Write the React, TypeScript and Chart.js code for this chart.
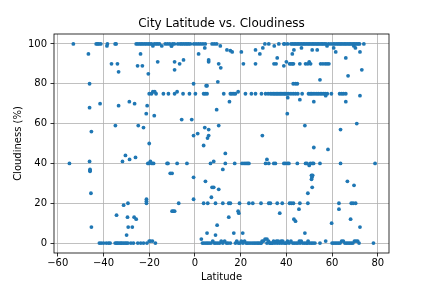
import { useEffect, useRef } from "react";
import { Chart, registerables } from "chart.js";

Chart.register(...registerables);

// Latitudes of cities with exactly 100% cloudiness
const lat100 = [
  -53.2, -43.2, -42.6, -42, -41.2, -38.3, -34.9, -34.5,
  -25.7, -25, -24.2, -23.5, -22.8, -22, -21.3, -20.5, -19.8, -19, -17.8, -17, -16.3, -15.5, -13,
  -12, -11, -9.8, -9, -7.5, -6.5, -5.8, -5, -4.2, -3.5, -2.8, -2, -0.5, 0.5, 1.5, 2.5, 3.5, 4.5,
  7.5, 8.5, 9.5, 30.6, 32.3, 36.7, 38.9, 39.2, 40.5, 42, 42.7, 43.4, 44, 44.7, 45.3, 46, 46.7,
  47.4, 48, 48.7, 49.4, 50, 50.7, 51.4, 52, 52.7, 53.4, 54, 54.7, 55.4, 56, 56.7, 57.4, 58.5,
  59.5, 60.5, 61.2, 62, 62.7, 63.4, 64, 64.7, 65.4, 66, 66.7, 67.4, 68, 68.7, 69.4, 70, 70.7,
  71.4, 72, 73.9,
];

// Latitudes of cities with exactly 75% cloudiness
const lat75 = [
  -20, -19, -17, -13.8, -11.6, -8.9, -5.2, -2.4, 0.2, 3.8, 4.5, 5.3, 12.6, 15.5, 16.2, 17, 17.7,
  22.1, 24.7, 26.5, 29.1, 30.9, 32, 33, 33.7, 34.4, 35, 35.6, 36.2, 36.8, 37.4, 38, 38.6, 39.2,
  39.7, 40.3, 41, 42, 43, 44, 45, 46.9, 49.7, 50.4, 51, 51.7, 52.5, 53.3, 54, 54.8, 55.5, 56.3,
  57, 57.9, 59.7, 63.3, 64.2, 65, 66,
];

// Latitudes of cities with exactly 40% cloudiness
const lat40 = [
  -54.9, -20.6, -20, -18.8, -18.1, -12.2, -11.8, -7.8, -3.5, 6.8, 13.3, 17.4, 20.6, 21.5, 22.3,
  23, 23.6, 30.9, 32.3, 34.5, 35.2, 38.9, 39.5, 40.5, 41.1, 44.8, 48.4, 49, 50.5, 51.4, 51.9,
  54.7, 63.7, 78.8,
];

// Latitudes of cities with exactly 20% cloudiness
const lat20 = [
  -29.3, -21.2, -7.1, 3.8, 5.6, 9, 12.2, 14.8, 15.5, 19.5, 23.6, 25.3, 28.9, 32.3, 33, 36, 38.2,
  41.4, 42.2, 43.1, 45.9, 49.4, 63, 68.4, 69.2, 70.3,
];

// Latitudes of cities with 0% cloudiness
const lat0 = [
  -41.8, -41, -40, -38.8, -37.8, -37.1, -34.9, -34.3, -33.8, -33.2, -32.5, -32, -31.3, -30.6,
  -30, -29.3, -28, -26.9, -25, -23.7, -22.5, -21, -17.3, 3.3, 4, 4.8, 5.5, 6.2, 7, 8.5, 9.2, 10,
  10.8, 12.2, 13.8, 14.5, 15.5, 17.7, 19, 19.7, 21, 22.4, 23, 23.7, 24.5, 25.3, 26, 26.7, 27.4,
  28, 28.7, 29, 31.5, 32.7, 33, 33.7, 34, 35, 36, 37, 38, 39, 39.7, 40, 41.2, 42.8, 43.5, 44.3,
  45, 46, 47.2, 48, 48.8, 49.3, 50.2, 51, 51.7, 52.5, 54.7, 60, 60.7, 61.4, 62.1, 62.8, 63.5,
  65.6, 66.3, 67, 67.7, 68.4, 69.1, 71.8, 78.1,
];

// Latitudes of cities with 1% cloudiness
const lat1 = [
  -20, -19.5, -18.6, 7.8, 11.5, 13, 18.3, 20.3, 21.7, 29.4, 30, 32.2, 34.4, 35.7, 36.4, 37.7,
  38.4, 40.5, 42, 45.7, 46.5, 49.5, 57.2, 64.2, 64.9, 69.8, 70.5, 71.2,
];

// Remaining cities: [latitude, cloudiness]
const otherPoints: [number, number][] = [
  [-38.5, 99], [-18.4, 99], [-14.5, 99], [-10.2, 99], [-10.3, 99], [11.1, 99], [34.7, 99],
  [57.8, 99], [60.7, 98], [69.5, 99], [70.2, 98],
  [-46.6, 95], [-23.8, 95], [1.6, 95], [4.3, 98], [14, 97], [15.5, 96.6], [16.3, 96], [20.3, 96],
  [26.5, 97], [28.4, 95], [29.7, 98], [42.6, 95], [43.3, 97], [46.6, 98], [51.3, 97], [53.5, 97],
  [61.6, 96], [72.2, 96],
  [-36.5, 90], [-33.9, 90], [-33.4, 86], [-25.1, 89], [-23, 89], [-20.4, 85], [-16.3, 91],
  [-8.9, 91], [-8.9, 87], [-6.7, 90], [-5, 92], [6, 91], [6, 92], [10.4, 90], [11.3, 88],
  [21.2, 90], [26.5, 90], [34.6, 90], [35.5, 90], [36, 93], [38.9, 89], [40, 91], [41.4, 90],
  [42, 90], [42.6, 90], [43.1, 90], [45.9, 90], [48.4, 90], [49.4, 90], [50, 91], [50.6, 90],
  [55, 90], [56, 90], [57, 90], [57.8, 90], [58.6, 90], [66, 93], [73, 87], [67, 84], [54.7, 82],
  [-46.1, 80], [-0.6, 80], [10, 81], [43, 80], [44, 80], [44.8, 80],
  [-18.4, 76], [-17.6, 76], [-7.8, 76], [18.9, 76], [72.2, 74], [57.2, 74], [40.6, 73],
  [-46.1, 68], [-41.5, 70], [-33.4, 69], [-28.7, 71], [-26.4, 70], [-20.9, 69], [-21.3, 65],
  [-17.8, 64], [4.9, 79], [5.3, 79], [15.1, 71], [9.5, 67], [45.9, 72], [52, 71], [66, 71],
  [40.4, 65],
  [-45.3, 56], [-34.8, 59], [-24.8, 59], [-22.5, 58], [-5.8, 62], [-1.4, 62], [10.4, 59],
  [-0.6, 54], [1.2, 55], [4.3, 58], [6, 57], [5.5, 52.7], [6, 54], [29.5, 54], [48.1, 59],
  [63.7, 57], [70.8, 60], [3.8, 49], [-20, 50], [52, 48], [58.2, 47],
  [-46.1, 41], [-31.7, 41], [-19.5, 41], [8.2, 41], [31.5, 42], [50, 39],
  [-45.9, 37], [-45.9, 36], [-45.9, 36.5], [-30.4, 44], [-28.6, 42], [-26, 43], [-10.8, 35],
  [-10, 35], [-0.6, 33], [12.2, 37], [13.3, 45], [4.6, 31], [7.5, 28], [8.2, 28], [10.4, 27],
  [51, 34], [51.5, 34], [51.2, 33], [51, 32], [51.3, 28], [49.4, 25], [66.7, 31], [69.6, 29],
  [-45.5, 25], [7.2, 23], [-0.6, 22],
  [-31.2, 19], [-21.2, 22], [-21.2, 21],
  [-34.3, 14], [-29.5, 13], [-26.6, 13], [-25.7, 12], [-29.2, 8], [-27.4, 8], [-45.3, 8],
  [-29.9, 4], [-10, 16], [-8.9, 16], [-9.5, 16], [14.8, 13], [18.9, 16], [19.2, 15], [37.1, 15],
  [63, 17], [45.5, 17], [43.3, 12], [44, 11], [59.8, 10], [68.1, 12], [72.2, 8], [9.7, 9],
  [5.3, 5], [9, 4], [17, 5], [20.9, 5], [2.8, 2], [48.1, 5], [30.7, 2], [31.5, 2],
];

const xTicks = [-60, -40, -20, 0, 20, 40, 60, 80];
const yTicks = [0, 20, 40, 60, 80, 100];

const points = [
  ...lat100.map((x) => ({ x, y: 100 })),
  ...lat75.map((x) => ({ x, y: 75 })),
  ...lat40.map((x) => ({ x, y: 40 })),
  ...lat20.map((x) => ({ x, y: 20 })),
  ...lat0.map((x) => ({ x, y: 0 })),
  ...lat1.map((x) => ({ x, y: 1 })),
  ...otherPoints.map(([x, y]) => ({ x, y })),
];

const FONT = "'DejaVu Sans', sans-serif";
const fmt = (v: number) => (v < 0 ? "\u2212" + Math.abs(v) : String(v));

export default function App() {
  const ref = useRef<HTMLCanvasElement>(null);

  useEffect(() => {
    document.body.style.margin = "0";
    const frame = {
      id: "frame",
      afterDatasetsDraw(chart: any) {
        const { ctx, chartArea: a } = chart;
        ctx.save();
        ctx.strokeStyle = "#000";
        ctx.lineWidth = 0.8;
        ctx.strokeRect(a.left, a.top, a.right - a.left, a.bottom - a.top);
        ctx.restore();
      },
      afterDraw(chart: any) {
        const { ctx, chartArea: a } = chart;
        const cx = (a.left + a.right) / 2;
        const cy = (a.top + a.bottom) / 2;
        ctx.save();
        ctx.fillStyle = "#000";
        ctx.textAlign = "center";
        ctx.textBaseline = "middle";
        ctx.font = `12px ${FONT}`;
        ctx.fillText("City Latitude vs. Cloudiness", cx, 24);
        ctx.font = `10px ${FONT}`;
        ctx.fillText("Latitude", cx, 277);
        ctx.translate(18.5, cy);
        ctx.rotate(-Math.PI / 2);
        ctx.fillText("Cloudiness (%)", 0, 0);
        ctx.restore();
      },
    };

    const chart = new Chart(ref.current as HTMLCanvasElement, {
      type: "scatter",
      data: {
        datasets: [
          {
            data: points,
            backgroundColor: "#1f77b4",
            borderColor: "#1f77b4",
            borderWidth: 0,
            pointRadius: 1.9,
          },
        ],
      },
      options: {
        responsive: false,
        animation: false,
        layout: { padding: { left: 0, right: 43, top: 34, bottom: 0 } },
        plugins: { legend: { display: false }, tooltip: { enabled: false }, title: { display: false } },
        scales: {
          x: {
            type: "linear",
            min: -61.66,
            max: 84.9,
            afterBuildTicks: (s: any) => {
              s.ticks = xTicks.map((value) => ({ value }));
            },
            afterFit: (s: any) => {
              s.height = 35;
            },
            grid: { color: "#b0b0b0", lineWidth: 0.8, tickColor: "#000", tickLength: 3.5, tickWidth: 0.8 },
            border: { display: false },
            ticks: { font: { family: FONT, size: 10 }, color: "#000", padding: 1, maxRotation: 0, callback: (v: any) => fmt(Number(v)) },
          },
          y: {
            type: "linear",
            min: -5,
            max: 105,
            afterBuildTicks: (s: any) => {
              s.ticks = yTicks.map((value) => ({ value }));
            },
            afterFit: (s: any) => {
              s.width = 54;
            },
            grid: { color: "#b0b0b0", lineWidth: 0.8, tickColor: "#000", tickLength: 3.5, tickWidth: 0.8 },
            border: { display: false },
            ticks: { font: { family: FONT, size: 10 }, color: "#000", padding: 3.5, callback: (v: any) => fmt(Number(v)) },
          },
        },
      },
      plugins: [frame],
    });
    return () => chart.destroy();
  }, []);

  return (
    <div style={{ width: 432, height: 288, background: "#fff" }}>
      <canvas ref={ref} width={432} height={288} style={{ display: "block" }} />
    </div>
  );
}
